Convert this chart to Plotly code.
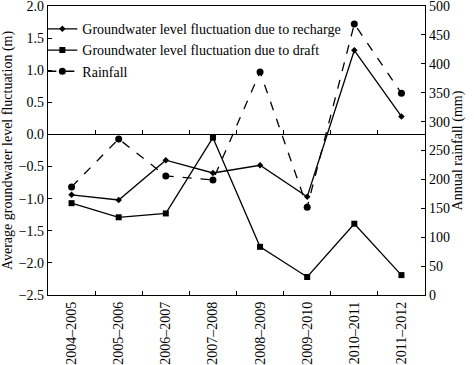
import plotly.graph_objects as go

years = ["2004–2005", "2005–2006", "2006–2007", "2007–2008",
         "2008–2009", "2009–2010", "2010–2011", "2011–2012"]
recharge = [-0.94, -1.02, -0.40, -0.60, -0.48, -0.97, 1.31, 0.28]
draft = [-1.07, -1.29, -1.23, -0.05, -1.75, -2.22, -1.39, -2.19]
rainfall = [187, 270, 206, 199, 386, 152, 469, 349]

left_ticks = [2.0, 1.5, 1.0, 0.5, 0.0, -0.5, -1.0, -1.5, -2.0, -2.5]
right_ticks = [0, 50, 100, 150, 200, 250, 300, 350, 400, 450, 500]

FONT = "Times New Roman, Liberation Serif, DejaVu Serif, serif"
FS = 14
fig = go.Figure()
fig.add_trace(go.Scatter(x=years, y=recharge, mode="lines+markers",
                         name="Groundwater level fluctuation due to recharge",
                         line=dict(color="black", width=1.3),
                         marker=dict(symbol="diamond", size=5, color="black")))
fig.add_trace(go.Scatter(x=years, y=draft, mode="lines+markers",
                         name="Groundwater level fluctuation due to draft",
                         line=dict(color="black", width=1.3),
                         marker=dict(symbol="square", size=6, color="black")))
fig.add_trace(go.Scatter(x=years, y=rainfall, mode="lines+markers", yaxis="y2",
                         name="Rainfall",
                         line=dict(color="black", width=1.3, dash="dash"),
                         marker=dict(symbol="circle", size=7, color="black")))
# invisible trace to carry the zero-line axis with ticks
fig.add_trace(go.Scatter(x=years, y=[0]*len(years), xaxis="x2", mode="lines",
                         line=dict(width=0), showlegend=False, hoverinfo="skip"))

ypos0 = (0 - left_ticks[-1]) / (left_ticks[0] - left_ticks[-1])

fig.update_layout(
    width=474, height=365,
    margin=dict(l=48, r=49, t=6, b=70, autoexpand=False),
    paper_bgcolor="white", plot_bgcolor="white",
    font=dict(family=FONT, size=FS, color="black"),
    showlegend=True,
    legend=dict(x=-0.015, y=0.975, xanchor="left", yanchor="top",
                bgcolor="rgba(0,0,0,0)", font=dict(family=FONT, size=FS),
                tracegroupgap=0),
    xaxis=dict(type="category", categoryorder="array", categoryarray=years,
               tickson="boundaries", ticks="inside", ticklen=4, tickcolor="black",
               showline=True, linecolor="black", linewidth=1.3, mirror=True,
               showgrid=False, tickangle=-90, range=[-0.5, 7.5], automargin=False,
               tickfont=dict(family=FONT, size=FS), ticklabeloverflow="allow"),
    xaxis2=dict(type="category", categoryorder="array", categoryarray=years,
                overlaying="x", anchor="free", position=ypos0,
                tickson="boundaries", ticks="inside", ticklen=4, tickcolor="black",
                showline=True, linecolor="black", linewidth=1.3, automargin=False,
                showticklabels=False, showgrid=False, range=[-0.5, 7.5]),
    yaxis=dict(range=[-2.5, 2.0], tickvals=left_ticks, tickformat=".1f",
               ticks="inside", ticklen=4, tickcolor="black",
               showline=True, linecolor="black", linewidth=1.3, automargin=False,
               showgrid=False, zeroline=False, ticklabeloverflow="allow",
               tickfont=dict(family=FONT, size=FS),
               title=dict(text="Average groundwater level fluctuation (m)",
                          standoff=2, font=dict(family=FONT, size=FS))),
    yaxis2=dict(range=[0, 500], tickvals=right_ticks, overlaying="y", side="right",
                ticks="inside", ticklen=4, tickcolor="black",
                showline=True, linecolor="black", linewidth=1.3, automargin=False,
                showgrid=False, zeroline=False, ticklabeloverflow="allow",
                tickfont=dict(family=FONT, size=FS),
                title=dict(text="Annual rainfall (mm)", standoff=2,
                           font=dict(family=FONT, size=FS))),
)

fig.write_html("out.html", config={"displayModeBar": False},
               post_script="document.body.style.margin='0';document.body.style.overflow='hidden';")
